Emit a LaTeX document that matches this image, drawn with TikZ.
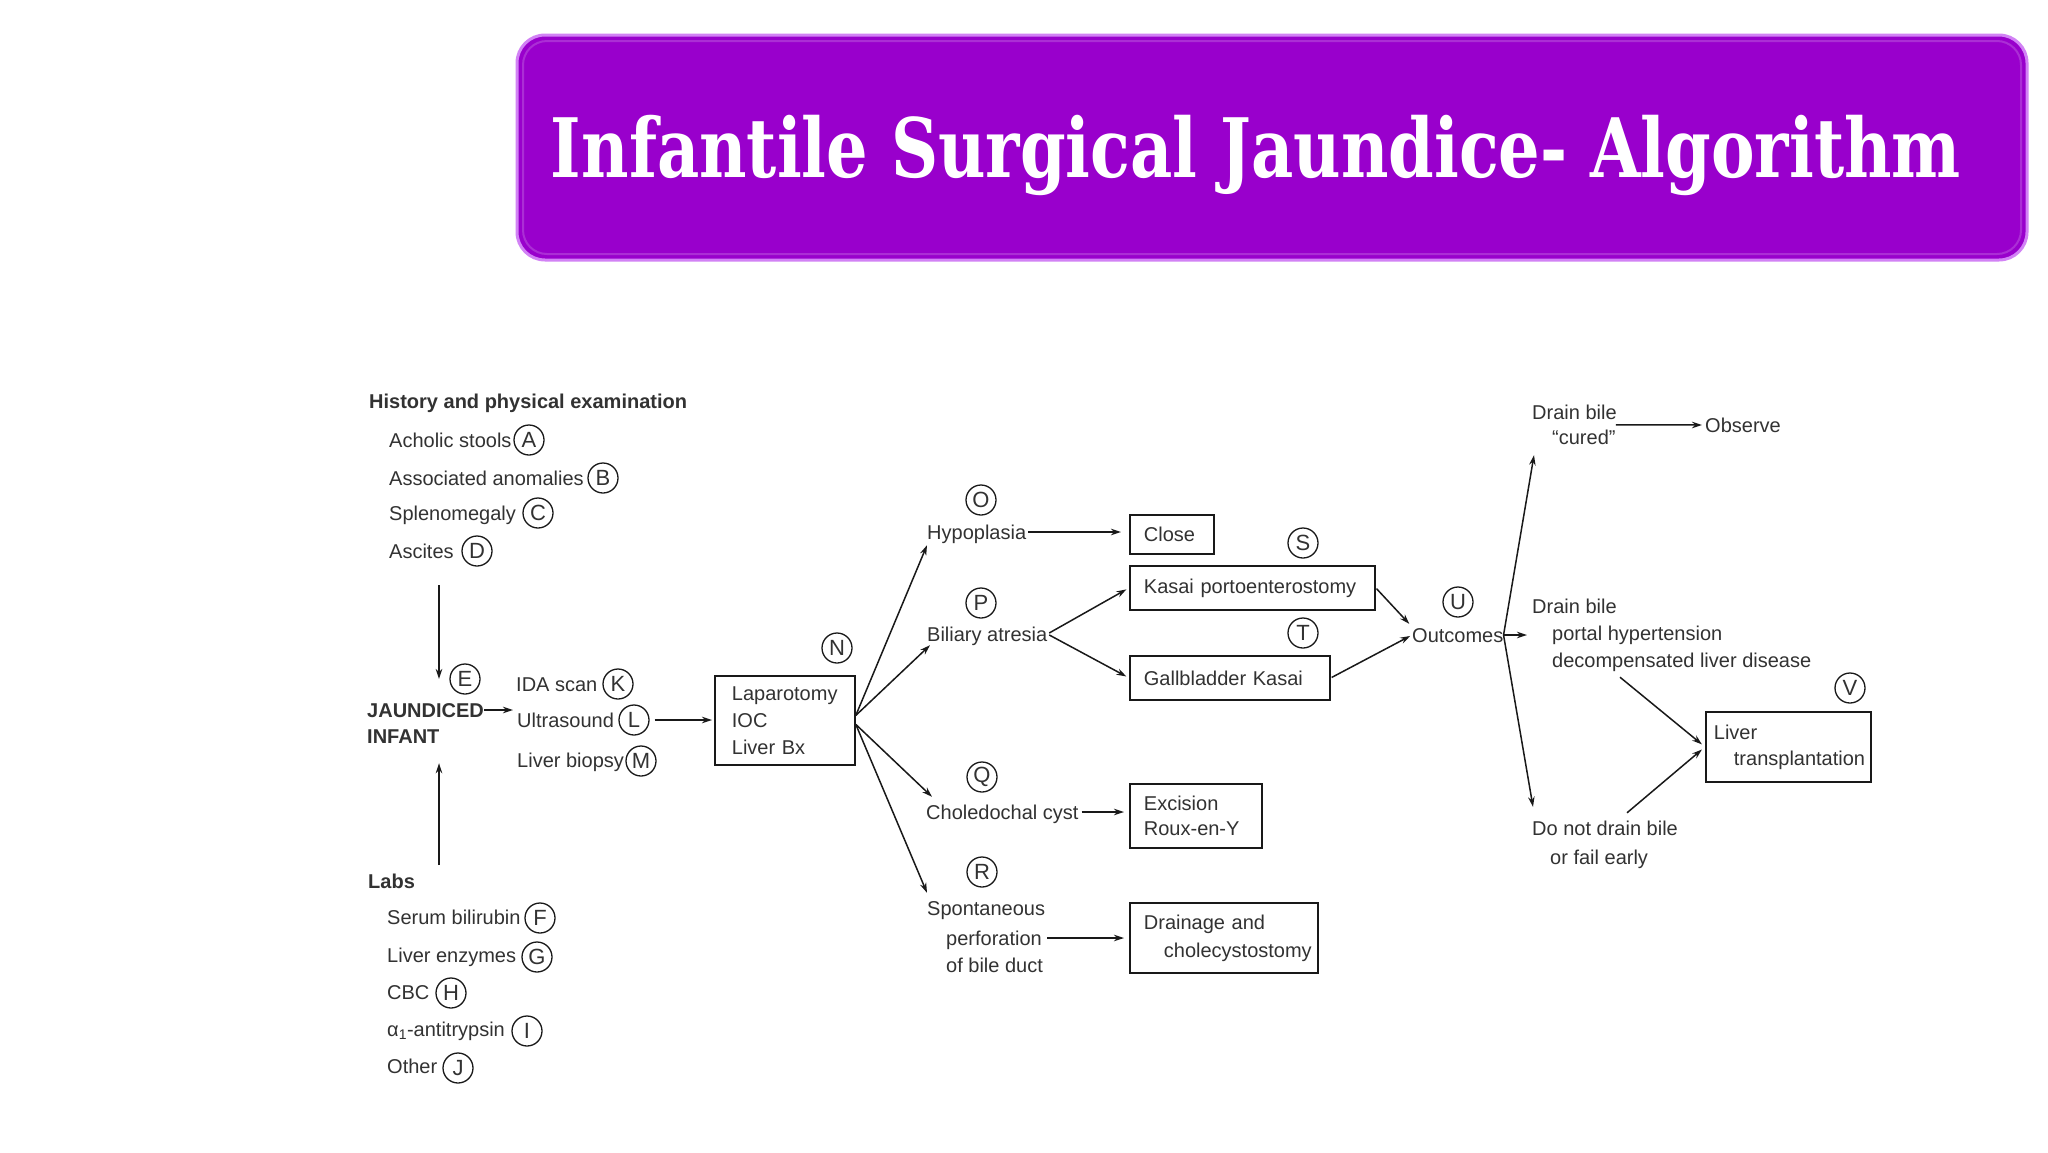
\documentclass[tikz,border=0pt]{standalone}
\usepackage{graphicx}
\usepackage{fontspec}
\setmainfont{Liberation Sans}
\newfontfamily\titlefont{DejaVu Serif}
\usetikzlibrary{arrows.meta,calc}
\definecolor{tc}{RGB}{50,50,50}
\definecolor{lc}{RGB}{25,25,25}
\definecolor{purp}{RGB}{153,0,204}
\definecolor{purpedge}{RGB}{210,130,245}
\begin{document}
\begin{tikzpicture}[x=1pt,y=-1pt,
  txt/.style={inner sep=0pt, anchor=west, text=tc, font=\fontsize{20}{24}\selectfont, text height=15pt, text depth=1pt},
  hdr/.style={txt, font=\fontsize{20}{24}\selectfont\bfseries},
  circ/.style={circle, draw=lc, line width=1.3pt, minimum size=30pt, inner sep=0pt, text=tc, font=\fontsize{22}{22}\selectfont},
  box/.style={draw=lc, line width=1.8pt, anchor=north west, inner xsep=0pt, inner ysep=0pt, align=left, text=tc, font=\fontsize{20}{26}\selectfont},
  arr/.style={draw=lc, line width=1.5pt, -{Stealth[length=10pt,width=6.5pt]}},
  ln/.style={draw=lc, line width=1.5pt}]
\useasboundingbox (0,0) rectangle (2048,1152);
\fill[white] (0,0) rectangle (2048,1152);

% title banner
\draw[fill=purp, draw=purpedge, line width=3pt, rounded corners=28pt] (517,35) rectangle (2027,260);
\draw[white, opacity=0.18, line width=2pt, rounded corners=24pt] (523,41) rectangle (2021,254);
\node[anchor=base, text=white, inner sep=0pt, font=\titlefont\bfseries\fontsize{82}{90}\selectfont] (title) at (1256,177)
  {\resizebox{1410pt}{\height}{Infantile Surgical Jaundice- Algorithm}};

% history and physical
\node[hdr] (hp) at (369,401) {History and physical examination};
\node[txt] (hA) at (389,440) {Acholic stools};
\node[circ] (cA) at (529,440) {A};
\node[txt] (hB) at (389,478) {Associated anomalies};
\node[circ] (cB) at (603,478) {B};
\node[txt] (hC) at (389,513) {Splenomegaly};
\node[circ] (cC) at (538,513) {C};
\node[txt] (hD) at (389,551) {Ascites};
\node[circ] (cD) at (477,551) {D};

% jaundiced infant
\node[hdr] (jd1) at (367,710) {JAUNDICED};
\node[hdr] (jd2) at (367,736) {INFANT};
\node[circ] (cE) at (465,679) {E};
\coordinate (vTop) at (439,585);
\coordinate (vBot) at (439,865);
\draw[arr] (vTop) -- (vTop |- cE.center);
\draw[arr] (vBot) -- ($(vBot |- jd2.south)+(0,19)$);

% labs
\node[hdr] (labs) at (368,881) {Labs};
\node[txt] (lF) at (387,917) {Serum bilirubin};
\node[circ] (cF) at (540,918) {F};
\node[txt] (lG) at (387,955) {Liver enzymes};
\node[circ] (cG) at (537,957) {G};
\node[txt] (lH) at (387,992) {CBC};
\node[circ] (cH) at (451,993) {H};
\node[txt] (lI) at (387,1029) {α\textsubscript{1}-antitrypsin};
\node[circ] (cI) at (527,1031) {I};
\node[txt] (lJ) at (387,1066) {Other};
\node[circ] (cJ) at (458,1068) {J};

% studies
\node[txt] (ida) at (516,684) {IDA scan};
\node[circ] (cK) at (618,684) {K};
\node[txt] (us) at (517,720) {Ultrasound};
\node[circ] (cL) at (634,720) {L};
\node[txt] (lb) at (517,760) {Liver biopsy};
\node[circ] (cM) at (641,761) {M};
\draw[arr, shorten >=4pt] (jd1.east) -- (jd1.east -| us.west);

% laparotomy
\node[box, minimum width=140pt, minimum height=89pt, text width=140pt, font=\fontsize{20}{27}\selectfont] (lap) at (714,675)
  {\hspace*{17pt}Laparotomy\\\hspace*{17pt}IOC\\\hspace*{17pt}Liver Bx};
\node[circ] (cN) at (837,648) {N};
\draw[arr, shorten <=5pt, shorten >=2pt] (cL.east) -- (cL.east -| lap.west);

% diagnoses
\node[circ] (cO) at (981,500) {O};
\node[txt] (hypo) at (927,532) {Hypoplasia};
\node[circ] (cP) at (981,603) {P};
\node[txt] (bil) at (927,634) {Biliary atresia};
\node[circ] (cQ) at (982,777) {Q};
\node[txt] (chol) at (926,812) {Choledochal cyst};
\node[circ] (cR) at (982,872) {R};
\node[txt] (sp1) at (927,908) {Spontaneous};
\node[txt] (sp2) at (946,938) {perforation};
\node[txt] (sp3) at (946,965) {of bile duct};

\draw[arr] ([yshift=5pt]lap.east) -- ($(hypo.south west)+(0,5)$);
\draw[arr] ([yshift=5pt]lap.east) -- ($(bil.south west)+(3,3)$);
\draw[arr] ([yshift=-4pt]lap.east) -- ($(chol.north west)+(6,-7)$);
\draw[arr] ([yshift=-4pt]lap.east) -- ($(sp1.north west)+(0,-7)$);

% treatments
\node[box, minimum width=84pt, minimum height=39pt, text width=84pt] (close) at (1129,514) {\hspace*{14pt}Close};
\node[box, minimum width=245pt, minimum height=44pt, text width=245pt] (kasai) at (1129,565) {\hspace*{14pt}Kasai portoenterostomy};
\node[circ] (cS) at (1303,543) {S};
\node[box, minimum width=200pt, minimum height=44pt, text width=200pt] (gb) at (1129,655) {\hspace*{14pt}Gallbladder Kasai};
\node[circ] (cT) at (1303,633) {T};
\node[box, minimum width=132pt, minimum height=64pt, text width=132pt, font=\fontsize{20}{25}\selectfont] (exc) at (1129,783)
  {\hspace*{14pt}Excision\\\hspace*{14pt}Roux-en-Y};
\node[box, minimum width=188pt, minimum height=70pt, text width=188pt, font=\fontsize{20}{28}\selectfont] (drn) at (1129,902)
  {\hspace*{14pt}Drainage and\\\hspace*{34pt}cholecystostomy};

\draw[arr, shorten <=2pt, shorten >=8pt] (hypo.east) -- (hypo.east -| close.west);
\draw[arr, shorten <=2pt, shorten >=3pt] (bil.east) -- (kasai.west);
\draw[arr, shorten <=2pt, shorten >=3pt] (bil.east) -- (gb.west);
\draw[arr, shorten <=3pt, shorten >=5pt] (chol.east) -- (chol.east -| exc.west);
\draw[arr, shorten <=5pt, shorten >=5pt] (sp2.east) -- (sp2.east -| drn.west);

% outcomes
\node[txt] (outc) at (1412,635) {Outcomes};
\node[circ] (cU) at (1458,602) {U};
\draw[arr, shorten <=1pt, shorten >=4pt] (kasai.east) -- (outc.north west);
\draw[arr, shorten <=1pt, shorten >=2pt] (gb.east) -- (outc.west);

\node[txt] (db1) at (1532,412) {Drain bile};
\node[txt] (cured) at (1552,437) {“cured”};
\node[txt] (obs) at (1705,425) {Observe};
\node[txt] (db2) at (1532,606) {Drain bile};
\node[txt] (ph) at (1552,633) {portal hypertension};
\node[txt] (dec) at (1552,660) {decompensated liver disease};
\node[txt] (dn1) at (1532,828) {Do not drain bile};
\node[txt] (dn2) at (1550,857) {or fail early};

\draw[arr] (outc.east) -- ($(cured.south west)+(-18,10)$);
\draw[arr] (outc.east) -- ($(dn1.north west)+(1,-13)$);
\draw[arr, shorten >=25pt] (outc.east) -- (outc.east -| ph.west);
\draw[arr, shorten >=3pt] ($(cured.north east)+(0,-4)$) -- (obs.west);

\node[box, minimum width=165pt, minimum height=70pt, text width=165pt] (lt) at (1705,711)
  {\hspace*{8pt}Liver\\\hspace*{28pt}transplantation};
\node[circ] (cV) at (1850,688) {V};
\draw[arr, shorten >=4pt] ($(dec.south west)+(68,9)$) -- (lt.west);
\draw[arr, shorten >=4pt] ($(dn1.north west)+(95,-7)$) -- (lt.west);
\end{tikzpicture}
\end{document}
